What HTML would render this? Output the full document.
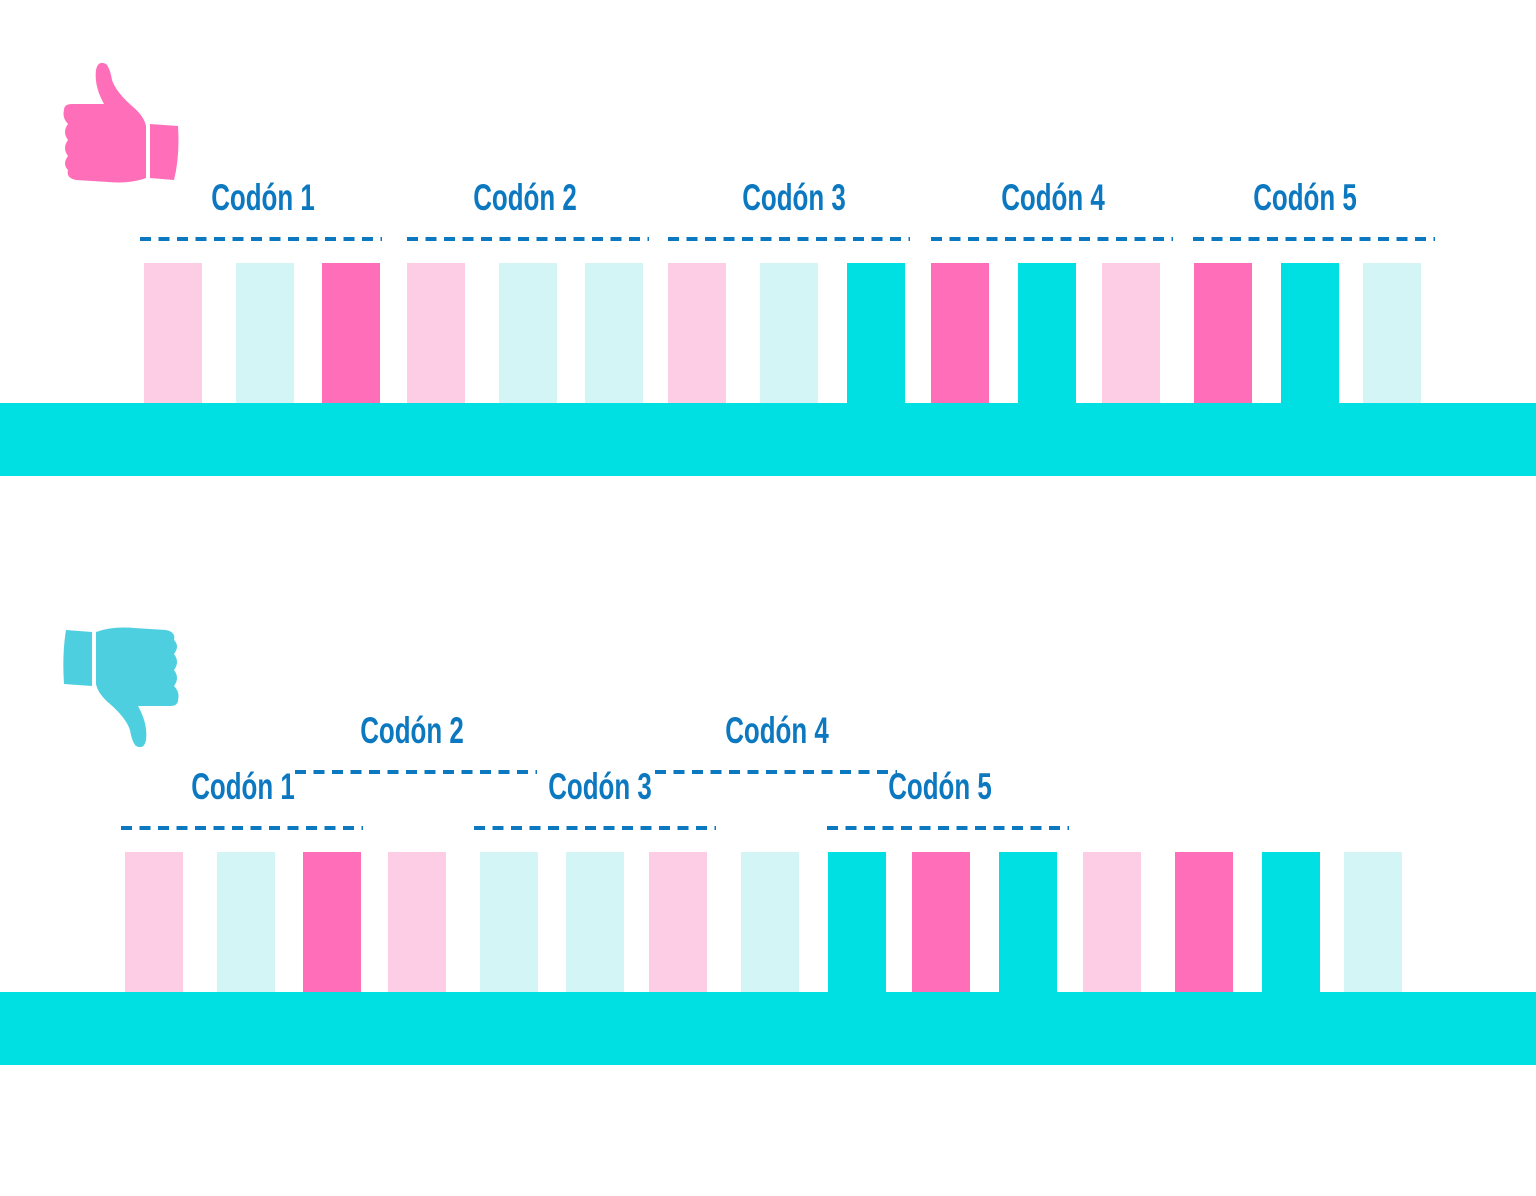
<!DOCTYPE html>
<html><head><meta charset="utf-8"><style>
html,body{margin:0;padding:0;background:#fff}
#root{position:relative;width:1536px;height:1196px;overflow:hidden;background:#fff}
.bar,.band,.dash,.lbl{position:absolute}
.dash{height:4px;background:repeating-linear-gradient(90deg,#0b78c0 0 11px,transparent 11px 18.5px)}
.lbl{font-family:"Liberation Sans",sans-serif;font-weight:bold;color:#0b78c0;font-size:37px;line-height:38px;white-space:nowrap;transform:translateX(-50%) scaleX(0.7);transform-origin:center}
</style></head><body>
<div id="root">
<svg style="position:absolute;left:60px;top:60px" width="122" height="126">
<path d="M4 50 Q4 44 12 44 L44 44 Q34 26 36 10 Q38 0 46 4 Q50 8 52 20 Q56 32 72 46 Q84 56 86 66 L86 118 Q70 124 48 122 L16 120 Q6 118 8 110 Q2 104 8 96 Q2 88 8 80 Q2 72 8 64 Q2 58 4 50Z" fill="#ff6fb9"/>
<path d="M90 64 L118 66 Q120 96 114 120 L90 118Z" fill="#ff6fb9"/>
</svg>
<svg style="position:absolute;left:60px;top:624px" width="122" height="126">
<g transform="translate(0,126) scale(1,-1)"><path d="M4 50 Q4 44 12 44 L44 44 Q34 26 36 10 Q38 0 46 4 Q50 8 52 20 Q56 32 72 46 Q84 56 86 66 L86 118 Q70 124 48 122 L16 120 Q6 118 8 110 Q2 104 8 96 Q2 88 8 80 Q2 72 8 64 Q2 58 4 50Z" fill="#4dcfe0" transform="translate(122,0) scale(-1,1)"/>
<path d="M32 64 L4 66 Q2 96 6 120 L32 118Z" fill="#4dcfe0"/></g>
</svg>
</div>
<script>
const colorsTop=["lp","lc","p","lp","lc","lc","lp","lc","c","p","c","lp","p","c","lc"];
const colorsBottom=["lp","lc","p","lp","lc","lc","lp","lc","c","p","c","lp","p","c","lc"];
const labelsTop=["Codón 1","Codón 2","Codón 3","Codón 4","Codón 5"];
const labelsBottom=["Codón 1","Codón 2","Codón 3","Codón 4","Codón 5"];
const pal={lp:"#fdcde6",lc:"#d3f5f5",p:"#ff6fb9",c:"#00e0e3"};
const root=document.getElementById('root');
function mk(cls,css){const d=document.createElement('div');d.className=cls;Object.assign(d.style,css);root.appendChild(d);return d;}
function row(colors,x0,top,pre){
  const xs=[0,92,178,263,355,441,524,616,703,787,874,958,1050,1137,1219];
  colors.forEach((c,i)=>{const b=mk('bar',{left:(x0+xs[i])+'px',top:top+'px',width:'58px',height:'140px',background:pal[c]});
    
    });
  const band=mk('band',{left:'0px',top:(top+140)+'px',width:'1536px',height:'73px',background:'#00e0e3'});
  
  
}
row(colorsTop,144,263,'top');
row(colorsBottom,125,852,'bottom');
const topDash=[140,407,668,931,1193];
const topCx=[263,525,794,1053,1305];
labelsTop.forEach((t,i)=>{
  const d=mk('dash',{left:topDash[i]+'px',top:'237px',width:'242px'});
  
  
  const l=mk('lbl',{left:topCx[i]+'px',top:'179px'});l.textContent=t;
  
  
});
const botDash=[121,295,474,655,827];
const botY=[826,770,826,770,826];
const botCx=[243,412,600,777,940];
labelsBottom.forEach((t,i)=>{
  const d=mk('dash',{left:botDash[i]+'px',top:botY[i]+'px',width:'242px'});
  
  
  const l=mk('lbl',{left:botCx[i]+'px',top:(botY[i]-58)+'px'});l.textContent=t;
  
  
});
</script>
</body></html>
